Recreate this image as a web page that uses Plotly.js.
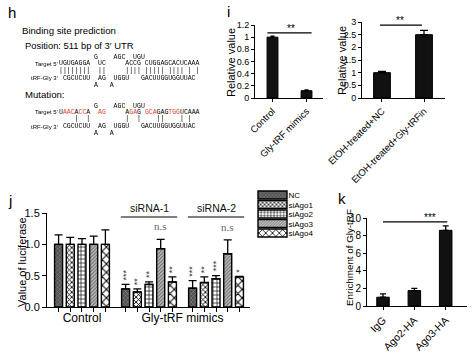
<!DOCTYPE html>
<html><head><meta charset="utf-8">
<script src="https://cdn.plot.ly/plotly-3.0.1.min.js"></script>
<style>html,body{margin:0;padding:0;background:#fff}#plot{width:474px;height:357px}</style>
</head><body><div id="plot"></div>
<script>
// ---------------- data ----------------
const iLeftCats = ['Control', 'Gly-tRF mimics'];
const iLeftVals = [1.0, 0.12];
const iLeftErr = [0.015, 0.012];
const iLeftSig = '**';

const iRightCats = ['EtOH-treated+NC', 'EtOH-treated+Gly-tRFin'];
const iRightVals = [1.0, 2.5];
const iRightErr = [0.05, 0.17];
const iRightSig = '**';

const jGroups = ['Control', 'siRNA-1', 'siRNA-2'];
const jAxisLabels = ['Control', 'Gly-tRF mimics'];
const jSeries = ['NC', 'siAgo1', 'siAgo2', 'siAgo3', 'siAgo4'];
const jNC = [1.0, 0.29, 0.30];
const jNCErr = [0.15, 0.07, 0.12];
const jAgo1 = [1.0, 0.24, 0.39];
const jAgo1Err = [0.11, 0.05, 0.09];
const jAgo2 = [1.0, 0.36, 0.45];
const jAgo2Err = [0.09, 0.04, 0.05];
const jAgo3 = [1.0, 0.93, 0.85];
const jAgo3Err = [0.13, 0.15, 0.22];
const jAgo4 = [1.0, 0.40, 0.48];
const jAgo4Err = [0.23, 0.08, 0.01];
const jSig1 = ['***', '**', '**', 'n.s', '**'];   // siRNA-1
const jSig2 = ['***', '**', '***', 'n.s', '*'];   // siRNA-2

const kCats = ['IgG', 'Ago2-HA', 'Ago3-HA'];
const kVals = [1.0, 1.75, 8.6];
const kErr = [0.37, 0.25, 0.5];
const kSig = '***';

// panel h texts
const hTitle = 'Binding site prediction';
const hPosition = 'Position: 511 bp of 3\u2032 UTR';
const hMutation = 'Mutation:';
const seqTop = '         G    AGC  UGU';
const seqTarget = 'UGUGAGGA  UC     ACCG CUGGAGCACUCAAA';
const seqTRF = ' CGCUCUU  AG  UGGU   GACUUGGUGGUUAC';
const seqSub = '         A   A';
const seqPairs = [0,1,2,3,4,5,6,7,10,11,17,18,19,20,22,23,24,25,26,28,29,30,31,33,35];
// mutated target: [segment, mutated?]
const mutTarget = [['U',0],['AAC',1],['A',0],['CC',1],['A',0],['  ',0],['AG',1],['     ',0],['A',0],['GA',1],['G',0],[' ',0],['GCA',1],['GAG',0],['TGG',1],['UCAAA',0]];
const mutPairs = [4,7,17,20,25,26,31,33];

// ---------------- helpers ----------------
const FONT = 'Arial, "Liberation Sans", Helvetica, sans-serif';
const MONO = '"Liberation Mono", "DejaVu Sans Mono", monospace';
const W = 474, H = 357;
const px = x => x / W;
const py = y => 1 - y / H;
const NB = '\u00A0';
const nb = s => s.replace(/ /g, NB);
const RED = '#e2462f';

function axisBase(extra) {
  return Object.assign({
    showline: true, linecolor: '#000', linewidth: 1, ticks: 'outside', ticklen: 3,
    tickwidth: 1, tickcolor: '#000', showgrid: false, zeroline: false, fixedrange: true,
    tickfont: {family: FONT, size: 9, color: '#000'}
  }, extra);
}
const errUp = (arr, w) => ({type: 'data', array: arr, arrayminus: arr.map(() => 0), symmetric: false,
  visible: true, color: '#000', thickness: 1.3, width: w});

const BARGAP = 0.127, BARGROUPGAP = 0.316;
const slot = (1 - BARGAP) / jSeries.length;
const jCenter = (g, s) => g + (s - (jSeries.length - 1) / 2) * slot;

// ---------------- traces ----------------
const data = [];
data.push({type: 'bar', x: iLeftCats, y: iLeftVals, error_y: errUp(iLeftErr, 2), width: 0.32,
  marker: {color: '#111', line: {color: '#000', width: 1}}, xaxis: 'x', yaxis: 'y', showlegend: false});
data.push({type: 'bar', x: iRightCats, y: iRightVals, error_y: errUp(iRightErr, 4), width: 0.4,
  marker: {color: '#111', line: {color: '#000', width: 1}}, xaxis: 'x2', yaxis: 'y2', showlegend: false});

const jVals = [jNC, jAgo1, jAgo2, jAgo3, jAgo4];
const jErrs = [jNCErr, jAgo1Err, jAgo2Err, jAgo3Err, jAgo4Err];
const jStyles = [
  {bg: '#505050', fg: '#959595', shape: 'x', size: 3, solidity: 0.3},
  {bg: '#ffffff', fg: '#000000', shape: 'x', size: 3.5, solidity: 0.45},
  {bg: '#ffffff', fg: '#000000', shape: '+', size: 4, solidity: 0.3},
  {bg: '#c4c4c4', fg: '#6e6e6e', shape: '/', size: 2.5, solidity: 0.45},
  {bg: '#ffffff', fg: '#000000', shape: 'x', size: 6, solidity: 0.3}
];
jSeries.forEach((name, s) => {
  const st = jStyles[s];
  data.push({type: 'bar', name: name, x: jGroups.map((g, i) => i), y: jVals[s],
    error_y: errUp(jErrs[s], 4),
    marker: {color: st.bg, line: {color: '#000', width: 1.4},
      pattern: {shape: st.shape, bgcolor: st.bg, fgcolor: st.fg, size: st.size, solidity: st.solidity}},
    xaxis: 'x3', yaxis: 'y3', showlegend: true});
});

data.push({type: 'bar', x: kCats, y: kVals, error_y: errUp(kErr, 3), width: 0.4,
  marker: {color: '#111', line: {color: '#000', width: 1}}, xaxis: 'x4', yaxis: 'y4', showlegend: false});

// ---------------- annotations ----------------
const ann = [];
const grayIdx = [];
const txt = (text, x, y, o) => ann.push(Object.assign({text: text, x: px(x), y: py(y), xref: 'paper', yref: 'paper',
  showarrow: false, xanchor: 'left', yanchor: 'middle', borderpad: 0, borderwidth: 0,
  font: {family: FONT, size: 10, color: '#000'}}, o || {}));

// panel letters
txt('h', 8, 13, {font: {family: FONT, size: 15, color: '#000'}});
txt('i', 227, 12, {font: {family: FONT, size: 15, color: '#000'}});
txt('j', 8, 200, {font: {family: FONT, size: 15, color: '#000'}});
txt('k', 338, 198, {font: {family: FONT, size: 15, color: '#000'}});

// panel h
txt(hTitle, 22, 30, {font: {family: FONT, size: 9.6, color: '#000'}});
txt(hPosition, 25, 46, {font: {family: FONT, size: 9.4, color: '#000'}});
txt(hMutation, 25, 95, {font: {family: FONT, size: 9.6, color: '#000'}});

const SX = 59;
const mono = (text, y, gray) => { if (gray) grayIdx.push(ann.length); txt(text, SX, y, {font: {family: MONO, size: 6.5, color: '#000'}}); };
const barRow = cols => { let s = ''; const m = Math.max(...cols); for (let c = 0; c <= m; c++) s += cols.includes(c) ? '|' : ' '; return nb(s); };

function block(y0, targetText, pairs, grayTarget) {
  mono(nb(seqTop), y0, true);
  grayIdx.push(ann.length);
  txt('Target 5\u2032', SX, y0 + 6, {xanchor: 'right', font: {family: FONT, size: 6, color: '#000'}});
  mono(targetText, y0 + 6, grayTarget);
  mono(barRow(pairs), y0 + 13, true);
  grayIdx.push(ann.length);
  txt('tRF-Gly 3\u2032', SX, y0 + 20.5, {xanchor: 'right', font: {family: FONT, size: 6, color: '#000'}});
  mono(nb(seqTRF), y0 + 20.5, true);
  mono(nb(seqSub), y0 + 27.5, true);
}
block(57.5, nb(seqTarget), seqPairs, true);
block(106, mutTarget.map(([seg, m]) => m ? `<span style="color:${RED}">${nb(seg)}</span>` : nb(seg)).join(''), mutPairs, false);

// y titles
const ytitle = (text, x, y, size) => txt(text, x, y, {xanchor: 'center', textangle: -90, font: {family: FONT, size: size, color: '#000'}});
ytitle('Relative value', 231, 63, 11);
ytitle('Relative value', 342, 61, 11);
ytitle('Value of luciferase', 22, 262, 11);
ytitle('Enrichment of Gly-tRF', 349, 258, 9.8);

// significance marks
const shapes = [];
const sigLine = (xref, yref, x0, x1, y) => shapes.push({type: 'line', xref: xref, yref: yref, x0: x0, x1: x1, y0: y, y1: y, line: {color: '#000', width: 1.2}});
sigLine('x', 'y', -0.15, 1.15, 1.07);
ann.push({text: iLeftSig, x: 0.55, y: 1.07, xref: 'x', yref: 'y', showarrow: false, yanchor: 'bottom', yshift: -3, font: {family: FONT, size: 10, color: '#000'}});
sigLine('x2', 'y2', -0.05, 0.95, 2.88);
ann.push({text: iRightSig, x: 0.43, y: 2.88, xref: 'x2', yref: 'y2', showarrow: false, yanchor: 'bottom', yshift: -3, font: {family: FONT, size: 10, color: '#000'}});
sigLine('x4', 'y4', 0, 2.05, 9.55);
ann.push({text: kSig, x: 1.5, y: 9.55, xref: 'x4', yref: 'y4', showarrow: false, yanchor: 'bottom', yshift: -3, font: {family: FONT, size: 10, color: '#000'}});

// j group labels + stars
[1, 2].forEach(g => {
  shapes.push({type: 'line', xref: 'x3', yref: 'paper', x0: g - 0.42, x1: g + 0.42, y0: py(217), y1: py(217), line: {color: '#000', width: 1.2}});
  ann.push({text: jGroups[g], x: g, y: py(208), xref: 'x3', yref: 'paper', showarrow: false, yanchor: 'middle',
    font: {family: FONT, size: 10.5, color: '#111'}});
  const marks = g === 1 ? jSig1 : jSig2;
  marks.forEach((m, s) => {
    const top = jVals[s][g] + jErrs[s][g];
    if (m === 'n.s') {
      ann.push({text: m, x: jCenter(g, s), y: top, xref: 'x3', yref: 'y3', showarrow: false, yanchor: 'bottom', yshift: 5,
        font: {family: '"Liberation Serif", "Times New Roman", serif', size: 11, color: '#666'}});
    } else {
      ann.push({text: m, x: jCenter(g, s), y: top, xref: 'x3', yref: 'y3', showarrow: false, yanchor: 'bottom', xanchor: 'center', yshift: 2,
        textangle: -90, font: {family: FONT, size: 9, color: '#333'}});
    }
  });
});

const minorVals = [];
jGroups.forEach((g, gi) => jSeries.forEach((n, s) => minorVals.push(jCenter(gi, s))));

// ---------------- layout ----------------
const layout = {
  width: W, height: H, margin: {l: 0, r: 0, t: 0, b: 0},
  paper_bgcolor: '#fff', plot_bgcolor: 'rgba(0,0,0,0)',
  barmode: 'group', bargap: BARGAP, bargroupgap: BARGROUPGAP,
  font: {family: FONT, color: '#000'},
  xaxis: axisBase({domain: [px(255), px(323)], range: [-0.515, 1.485], tickangle: -45, tickfont: {family: FONT, size: 9.5, color: '#000'}, anchor: 'y'}),
  yaxis: axisBase({domain: [py(98), py(25)], range: [0, 1.2], dtick: 0.2, anchor: 'x'}),
  xaxis2: axisBase({domain: [px(362), px(445)], range: [-0.476, 1.5], tickangle: -45, tickfont: {family: FONT, size: 9.5, color: '#000'}, anchor: 'y2'}),
  yaxis2: axisBase({domain: [py(98), py(22)], range: [0, 3], dtick: 0.5, anchor: 'x2'}),
  xaxis3: axisBase({domain: [px(47), px(250)], range: [-0.522, 2.507], tickmode: 'array', tickvals: [0, 1.5], ticktext: jAxisLabels,
    ticks: '', tickangle: 0, tickfont: {family: FONT, size: 12, color: '#000'}, anchor: 'y3',
    minor: {tickmode: 'array', tickvals: minorVals, ticks: 'outside', ticklen: 4, tickwidth: 1, tickcolor: '#000', showgrid: false}}),
  yaxis3: axisBase({domain: [py(307), py(213)], range: [0, 1.5], dtick: 0.5, tickformat: '.1f', ticklen: 4, tickfont: {family: FONT, size: 11, color: '#000'}, anchor: 'x3'}),
  xaxis4: axisBase({domain: [px(367), px(467)], range: [-0.511, 2.68], tickangle: -45, tickfont: {family: FONT, size: 10.5, color: '#000'}, anchor: 'y4'}),
  yaxis4: axisBase({domain: [py(306), py(218)], range: [0, 10], dtick: 2, tickfont: {family: FONT, size: 10, color: '#000'}, anchor: 'x4'}),
  showlegend: true,
  legend: {x: px(252.5), y: py(188), xanchor: 'left', yanchor: 'top', bgcolor: 'rgba(0,0,0,0)', borderwidth: 0,
    font: {family: FONT, size: 8, color: '#000'}, tracegroupgap: 0, traceorder: 'normal'},
  shapes: shapes,
  annotations: ann
};

const gd = document.getElementById('plot');
Plotly.newPlot(gd, data, layout, {staticPlot: true, displayModeBar: false, responsive: false}).then(() => {
  const items = gd.querySelectorAll('g.legend g.traces');
  items.forEach((g, i) => {
    g.setAttribute('transform', 'translate(0,' + (7 + i * 9.5) + ')');
    g.querySelectorAll('g.legendpoints path').forEach(p => p.setAttribute('d', 'M-14.5,4H14.5V-4H-14.5Z'));
    const t = g.querySelector('text.legendtext');
    if (t) t.setAttribute('x', 36);
  });
  // grayscale anti-aliasing for tiny sequence text
  grayIdx.forEach(i => {
    const el = gd.querySelector('g.annotation[data-index="' + i + '"]');
    if (el) el.style.filter = 'grayscale(1)';
  });
});
</script>
</body></html>
